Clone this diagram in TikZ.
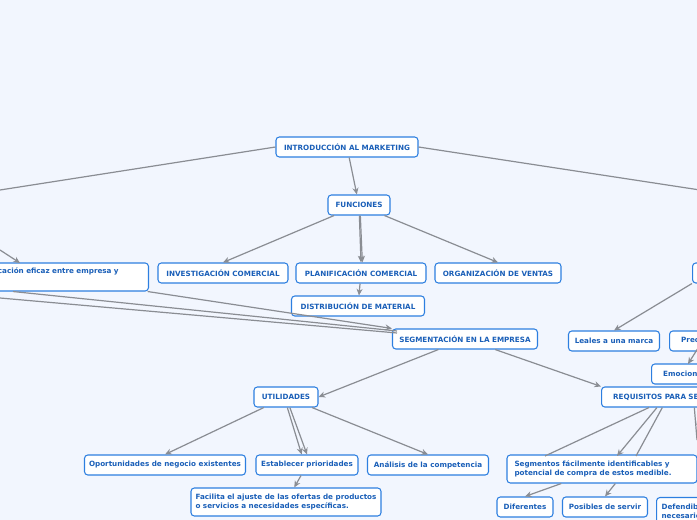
\documentclass[tikz,border=0pt]{standalone}
\usepackage{fontspec}
\setmainfont{DejaVu Sans}
\usetikzlibrary{arrows.meta}
\begin{document}
\begin{tikzpicture}[x=0.75pt,y=-0.75pt,
  box/.style={draw=bordc,line width=0.8pt,rounded corners=2.5pt,fill=white,text=txtc,font=\bfseries\fontsize{5.4}{7}\selectfont,inner sep=0pt,minimum height=15pt},
  ln/.style={draw=lnc,line width=0.9pt},
  ar/.style={ln,-{Stealth[length=5pt,width=4.5pt]}}]
\definecolor{bordc}{HTML}{2D7FE0}
\definecolor{txtc}{HTML}{1A5FB8}
\definecolor{lnc}{HTML}{8A8D93}
\definecolor{bgc}{HTML}{F2F6FE}
\useasboundingbox (0,0) rectangle (697,520);
\fill[bgc] (0,0) rectangle (697,520);
\begin{scope}
\clip (0,0) rectangle (697,520);
\coordinate (L0) at (0,190);
\coordinate (R0) at (700,190);
\coordinate (La) at (0,250);
\coordinate (Lb) at (0,298);
\node[box,minimum width=142*0.75pt] (intro) at (347,147) {INTRODUCCIÓN AL MARKETING};
\node[box,minimum width=62*0.75pt] (fun) at (359,205) {FUNCIONES};
\node[box,minimum width=186*0.75pt,minimum height=21pt,text width=176*0.75pt,align=left,anchor=east] (left) at (149,277) {Comunicación eficaz entre empresa y\\[2pt]\phantom{x}};
\node[box,minimum width=130*0.75pt] (inv) at (223,273) {INVESTIGACIÓN COMERCIAL};
\node[box,minimum width=130*0.75pt] (pla) at (361,273) {PLANIFICACIÓN COMERCIAL};
\node[box,minimum width=126*0.75pt] (org) at (498,273) {ORGANIZACIÓN DE VENTAS};
\node[box,minimum width=133*0.75pt] (dis) at (358,306) {DISTRIBUCIÓN DE MATERIAL};
\node[box,minimum width=145*0.75pt] (seg) at (465,339) {SEGMENTACIÓN EN LA EMPRESA};
\node[box,minimum width=60*0.75pt,anchor=west] (rt) at (692,273) {};
\node[box,minimum width=91*0.75pt] (lea) at (614,341) {Leales a una marca};
\node[box,minimum width=80*0.75pt,anchor=west,text width=70*0.75pt,align=left] (pre) at (669,341) {\hspace{5pt}Preocupados};
\node[box,minimum width=80*0.75pt,anchor=west,text width=70*0.75pt,align=left] (emo) at (651,374) {\hspace{5pt}Emocionales};
\node[box,minimum width=150*0.75pt,anchor=west,text width=140*0.75pt,align=left] (req) at (601,397) {\hspace{5pt}REQUISITOS PARA SEGMENTAR};
\node[box,minimum width=64*0.75pt] (uti) at (286,397) {UTILIDADES};
\node[box,minimum width=161*0.75pt] (opo) at (165,465) {Oportunidades de negocio existentes};
\node[box,minimum width=102*0.75pt] (est) at (307,465) {Establecer prioridades};
\node[box,minimum width=121*0.75pt] (ana) at (428,465) {Análisis de la competencia};
\node[box,minimum width=190*0.75pt,minimum height=21pt,align=left] (fac) at (286,502) {Facilita el ajuste de las ofertas de productos\\o servicios a necesidades específicas.};
\node[box,minimum width=190*0.75pt,minimum height=21pt,align=left,text width=175*0.75pt] (sgm) at (602,469) {Segmentos fácilmente identificables y\\potencial de compra de estos medible.};
\node[box,minimum width=56*0.75pt] (dif) at (525,507) {Diferentes};
\node[box,minimum width=85*0.75pt] (pos) at (605,507) {Posibles de servir};
\node[box,minimum width=60*0.75pt,minimum height=21pt,anchor=north west,text width=50*0.75pt,align=left] (def) at (656,497) {Defendibles\\necesarios};
% connectors
\draw[ln] (intro.west) -- (L0);
\draw[ln] (intro.east) -- (R0);
\draw[ar] (intro) -- (fun);
\draw[ar] (La) -- (20,263);
\draw[ar] (fun) -- (inv.north);
\draw[ar] (fun) -- (pla.north);
\draw[ar] ([xshift=1pt]fun.south) -- ([xshift=1pt]pla.north);
\draw[ar] (fun) -- (org.north);
\draw[ar] (pla) -- (dis);
\draw[ln] (Lb) -- (397,333);
\draw[ln] ([xshift=-102pt]left.south east) -- (397,331);
\draw[ar] ([xshift=-1pt]left.south east) -- (seg.north west);
\draw[ar] (seg) -- (uti.east);
\draw[ar] (seg) -- (req.north west);
\draw[ar] (rt.south west) -- (lea.north);
\draw[ar] (700,345) -- (688,364);
\draw[ar] (uti) -- (opo.north);
\draw[ar] (uti) -- (est.north);
\draw[ar] ([xshift=1pt]uti.south) -- ([xshift=-4pt]est.north);
\draw[ar] (uti) -- (ana.north);
\draw[ar] (est) -- (fac);
\draw[ln] ([xshift=36pt]req.south west) -- (545,456);
\draw[ar] ([xshift=42pt]req.south west) -- (617,456);
\draw[ln] ([xshift=46pt]req.south west) -- (636,456);
\draw[ln] ([xshift=70pt]req.south west) -- (697,440);
\draw[ln] ([xshift=74pt]req.south west) -- (697,425);
\draw[ar] (sgm) -- (dif.north);
\draw[ar] ([xshift=10pt]sgm.south) -- (pos.north);
\end{scope}
\end{tikzpicture}
\end{document}
